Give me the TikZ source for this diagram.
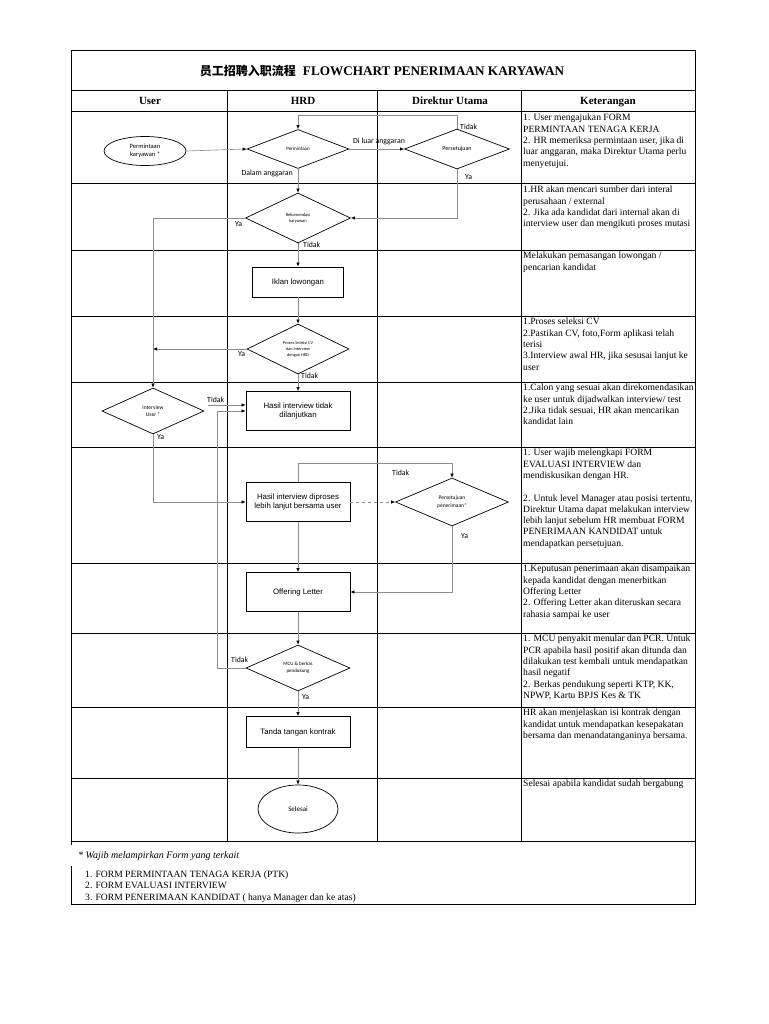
\documentclass[tikz,border=0pt]{standalone}
\usepackage{fontspec}
\setmainfont{Liberation Serif}
\newfontfamily\cjk{Noto Sans CJK SC}
\newfontfamily\arial{Liberation Sans}
\newfontfamily\calib{Carlito}
\usetikzlibrary{shapes.geometric,arrows.meta,calc}
\begin{document}
\begin{tikzpicture}[x=1pt,y=-1pt,
 grid/.style={line width=1pt,black},
 flow/.style={draw=black!45,line width=0.6pt,-{Latex[length=4pt,width=3.4pt,color=black]}},
 dia/.style={diamond,draw,line width=0.7pt,inner sep=0pt,align=center,font=\calib\fontsize{5}{6}\selectfont},
 box/.style={rectangle,draw,line width=0.8pt,inner sep=0pt,align=center,font=\arial\fontsize{7.8}{8.8}\selectfont},
 ell/.style={ellipse,draw,line width=0.7pt,inner sep=0pt,align=center,font=\calib\fontsize{6.5}{8}\selectfont},
 lbl/.style={font=\calib\fontsize{7.8}{8.5}\selectfont,inner sep=0pt},
 ket/.style={anchor=north west,inner sep=0pt,align=left,font=\fontsize{9.6}{11.3}\selectfont},
 hdr/.style={anchor=base,font=\bfseries\fontsize{11}{12}\selectfont},
 foot/.style={anchor=base west,inner sep=0pt,font=\fontsize{9.6}{10}\selectfont}
]
\useasboundingbox (0,0) rectangle (768,1024);
% ---------------- table ----------------
\draw[grid] (71,51) -- (695,51) -- (695,904) -- (71,904) -- (71,866);
\draw[grid] (71,845) -- (71,51);
\foreach \yy in {91,112,184,250,316,382,447,563,633,707,778,841}
  \draw[grid] (71,\yy) -- (695,\yy);
\foreach \xx in {227,377,521}
  \draw[grid] (\xx,91) -- (\xx,841);
% ---------------- titles ----------------
\node[anchor=base] (title) at (382,76) {{\cjk\bfseries\fontsize{12}{14}\selectfont 员工招聘入职流程}\hspace{7pt}{\bfseries\fontsize{13.2}{14}\selectfont FLOWCHART PENERIMAAN KARYAWAN}};
\node[hdr] (hUser) at (150,105) {User};
\node[hdr] (hHRD) at (303,105) {HRD};
\node[hdr] (hDir) at (450,105) {Direktur Utama};
\node[hdr] (hKet) at (608,105) {Keterangan};
% ---------------- flow nodes ----------------
\node[ell,minimum width=82pt,minimum height=29pt] (pk) at (145,151) {Permintaan\\karyawan *};
\node[dia,minimum width=102pt,minimum height=39pt] (perm) at (298,149) {Permintaan};
\node[dia,minimum width=105pt,minimum height=40pt,font=\calib\fontsize{6}{7}\selectfont] (pers) at (457,149) {Persetujuan};
\node[dia,minimum width=105pt,minimum height=50pt,font=\calib\fontsize{4.5}{6}\selectfont] (rek) at (298,218) {Rekomendasi\\karyawan};
\node[box,minimum width=91pt,minimum height=30pt] (iklan) at (298,282) {Iklan lowongan};
\node[dia,minimum width=102pt,minimum height=50pt,font=\calib\fontsize{4.3}{6}\selectfont] (cv) at (298,349) {Proses Seleksi CV\\dan Interview\\dengan HRD};
\node[dia,minimum width=102pt,minimum height=46pt,font=\calib\fontsize{5.5}{7.5}\selectfont] (iu) at (153,411) {Interview\\User *};
\node[box,minimum width=104pt,minimum height=39pt] (tdk) at (298,411) {Hasil interview tidak\\dilanjutkan};
\node[box,minimum width=104pt,minimum height=39pt] (proses) at (298,502) {Hasil interview diproses\\lebih lanjut bersama user};
\node[dia,minimum width=113pt,minimum height=48pt,font=\calib\fontsize{5.5}{7.5}\selectfont] (pp) at (452,502) {Persetujuan\\penerimaan*};
\node[box,minimum width=104pt,minimum height=39pt] (ol) at (298,592) {Offering Letter};
\node[dia,minimum width=104pt,minimum height=46pt,font=\calib\fontsize{5}{7}\selectfont] (mcu) at (298,668) {MCU \& berkas\\pendukung};
\node[box,minimum width=104pt,minimum height=31pt] (ttd) at (298,732) {Tanda tangan kontrak};
\node[ell,minimum width=80pt,minimum height=48pt,font=\calib\fontsize{7}{8}\selectfont] (sel) at (298,809) {Selesai};
% ---------------- helper coordinates ----------------
\coordinate (t1) at (457,115);
\coordinate (t2) at (457,218);
\coordinate (c1) at (153,218);
\coordinate (c2) at (153,349);
\coordinate (c3) at (217,668);
\coordinate (c4) at (217,411);
\coordinate (c5) at (153,502);
\coordinate (c6) at (298,463);
\coordinate (c7) at (452,463);
\coordinate (c8) at (452,592);
% ---------------- connectors ----------------
\draw[flow] (pk.east) -- (perm.west);
\draw[flow] (perm.east) -- (pers.west);
\draw[flow] (pers.north) -- (t1) -| (perm.north);
\draw[flow] (pers.south) -- (t2) -- (rek.east);
\draw[flow] (perm.south) -- (rek.north);
\draw[flow] (rek.west) -- (c1) -- (iu.north);
\draw[flow] (rek.south) -- (iklan.north);
\draw[flow] (iklan.south) -- (cv.north);
\draw[flow] (cv.west) -- (c2);
\draw[flow] (cv.south) -- (tdk.north);
\draw[flow] ([xshift=4pt,yshift=6pt]iu.east) -- ([yshift=6pt]tdk.west);
\draw[flow] (mcu.west) -- (c3) -- (c4) -- (tdk.west);
\draw[flow] (iu.south) -- (c5) -- (proses.west);
\draw[flow,dashed] (proses.east) -- (pp.west);
\draw[flow] (proses.north) -- (c6) -- (c7) -- (pp.north);
\draw[flow] (pp.south) -- (c8) -- (ol.east);
\draw[flow] (proses.south) -- (ol.north);
\draw[flow] (ol.south) -- (mcu.north);
\draw[flow] (mcu.south) -- (ttd.north);
\draw[flow] (ttd.south) -- (sel.north);
% ---------------- labels ----------------
\node[lbl] (lDiluar) at (379,141) {Di luar anggaran};
\node[lbl,anchor=west] (lT1) at (460,127) {Tidak};
\node[lbl,anchor=west] (lY1) at (465,177) {Ya};
\node[lbl,anchor=east] (lDalam) at (293,173) {Dalam anggaran};
\node[lbl,anchor=west] (lY2) at (235,224) {Ya};
\node[lbl,anchor=west] (lT2) at (303,245) {Tidak};
\node[lbl,anchor=west] (lY3) at (238,354) {Ya};
\node[lbl,anchor=west] (lT3) at (301,376) {Tidak};
\node[lbl,anchor=west] (lT4) at (207,400) {Tidak};
\node[lbl,anchor=west] (lY4) at (157,437) {Ya};
\node[lbl,anchor=west] (lT5) at (392,473) {Tidak};
\node[lbl,anchor=west] (lY5) at (461,536) {Ya};
\node[lbl,anchor=west] (lT6) at (231,660) {Tidak};
\node[lbl,anchor=west] (lY6) at (302,697) {Ya};
% ---------------- keterangan ----------------
\node[ket] (k1) at (523,114) {1. User mengajukan FORM\\PERMINTAAN TENAGA KERJA\\2. HR memeriksa permintaan user, jika di\\luar anggaran, maka Direktur Utama perlu\\menyetujui.};
\node[ket] (k2) at (523,186) {1.HR akan mencari sumber dari interal\\perusahaan / external\\2. Jika ada kandidat dari internal akan di\\interview user dan mengikuti proses mutasi};
\node[ket] (k3) at (523,252) {Melakukan pemasangan lowongan /\\pencarian kandidat};
\node[ket] (k4) at (523,318) {1.Proses seleksi CV\\2.Pastikan CV, foto,Form aplikasi telah\\terisi\\3.Interview awal HR, jika sesusai lanjut ke\\user};
\node[ket] (k5) at (523,384) {1.Calon yang sesuai akan direkomendasikan\\ke user untuk dijadwalkan interview/ test\\2.Jika tidak sesuai, HR akan mencarikan\\kandidat lain};
\node[ket] (k6) at (523,449) {1. User wajib melengkapi FORM\\EVALUASI INTERVIEW dan\\mendiskusikan dengan HR.\\[11.3pt]2. Untuk level Manager atau posisi tertentu,\\Direktur Utama dapat melakukan interview\\lebih lanjut sebelum HR membuat FORM\\PENERIMAAN KANDIDAT untuk\\mendapatkan persetujuan.};
\node[ket] (k7) at (523,565) {1.Keputusan penerimaan akan disampaikan\\kepada kandidat dengan menerbitkan\\Offering Letter\\2. Offering Letter akan diteruskan secara\\rahasia sampai ke user};
\node[ket] (k8) at (523,635) {1. MCU penyakit menular dan PCR. Untuk\\PCR apabila hasil positif akan ditunda dan\\dilakukan test kembali untuk mendapatkan\\hasil negatif\\2. Berkas pendukung seperti KTP, KK,\\NPWP, Kartu BPJS Kes \& TK};
\node[ket] (k9) at (523,709) {HR akan menjelaskan isi kontrak dengan\\kandidat untuk mendapatkan kesepakatan\\bersama dan menandatanganinya bersama.};
\node[ket] (k10) at (523,780) {Selesai apabila kandidat sudah bergabung};
% ---------------- footer ----------------
\node[foot,font=\itshape\fontsize{10}{10}\selectfont] (f0) at (78,858) {* Wajib melampirkan Form yang terkait};
\node[foot] (f1) at (85,877) {1. FORM PERMINTAAN TENAGA KERJA (PTK)};
\node[foot] (f2) at (85,888.5) {2. FORM EVALUASI INTERVIEW};
\node[foot] (f3) at (85,900) {3. FORM PENERIMAAN KANDIDAT ( hanya Manager dan ke atas)};
\end{tikzpicture}
\end{document}
